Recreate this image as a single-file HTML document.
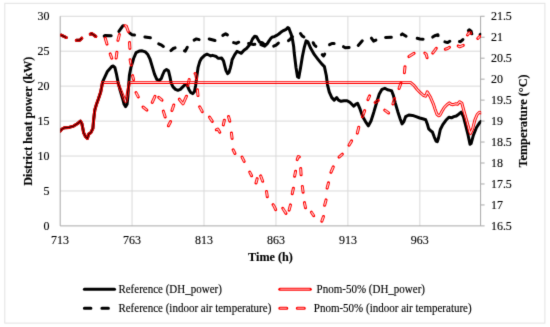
<!DOCTYPE html>
<html><head><meta charset="utf-8"><style>
html,body{margin:0;padding:0;background:#fff;width:550px;height:327px;overflow:hidden}
svg{display:block}
</style></head><body>
<svg width="550" height="327" viewBox="0 0 550 327">
<defs><filter id="soft" x="0" y="0" width="550" height="327" filterUnits="userSpaceOnUse" color-interpolation-filters="sRGB"><feConvolveMatrix order="3" kernelMatrix="0.01134 0.08382 0.01134 0.08382 0.61935 0.08382 0.01134 0.08382 0.01134" divisor="1" edgeMode="duplicate" preserveAlpha="true"/></filter></defs>
<g filter="url(#soft)">
<rect x="0" y="0" width="550" height="327" fill="#fff"/>
<rect x="4.8" y="3.3" width="540.1" height="319.8" fill="none" stroke="#e2e2e2" stroke-width="1"/>
<line x1="60.2" y1="16.25" x2="480.6" y2="16.25" stroke="#d9d9d9" stroke-width="1"/>
<line x1="60.2" y1="51.19" x2="480.6" y2="51.19" stroke="#d9d9d9" stroke-width="1"/>
<line x1="60.2" y1="86.13" x2="480.6" y2="86.13" stroke="#d9d9d9" stroke-width="1"/>
<line x1="60.2" y1="121.08" x2="480.6" y2="121.08" stroke="#d9d9d9" stroke-width="1"/>
<line x1="60.2" y1="156.02" x2="480.6" y2="156.02" stroke="#d9d9d9" stroke-width="1"/>
<line x1="60.2" y1="190.96" x2="480.6" y2="190.96" stroke="#d9d9d9" stroke-width="1"/>
<line x1="132.05" y1="16.25" x2="132.05" y2="225.9" stroke="#d9d9d9" stroke-width="1"/>
<line x1="204.00" y1="16.25" x2="204.00" y2="225.9" stroke="#d9d9d9" stroke-width="1"/>
<line x1="275.95" y1="16.25" x2="275.95" y2="225.9" stroke="#d9d9d9" stroke-width="1"/>
<line x1="347.90" y1="16.25" x2="347.90" y2="225.9" stroke="#d9d9d9" stroke-width="1"/>
<line x1="419.85" y1="16.25" x2="419.85" y2="225.9" stroke="#d9d9d9" stroke-width="1"/>
<line x1="60.2" y1="16.25" x2="60.2" y2="225.9" stroke="#a8a8a8" stroke-width="1"/>
<line x1="60.2" y1="225.9" x2="480.6" y2="225.9" stroke="#a8a8a8" stroke-width="1"/>
<line x1="480.6" y1="16.25" x2="480.6" y2="225.9" stroke="#a8a8a8" stroke-width="1"/>
<line x1="480.6" y1="16.25" x2="484.6" y2="16.25" stroke="#a8a8a8" stroke-width="1"/>
<line x1="480.6" y1="37.22" x2="484.6" y2="37.22" stroke="#a8a8a8" stroke-width="1"/>
<line x1="480.6" y1="58.18" x2="484.6" y2="58.18" stroke="#a8a8a8" stroke-width="1"/>
<line x1="480.6" y1="79.15" x2="484.6" y2="79.15" stroke="#a8a8a8" stroke-width="1"/>
<line x1="480.6" y1="100.11" x2="484.6" y2="100.11" stroke="#a8a8a8" stroke-width="1"/>
<line x1="480.6" y1="121.08" x2="484.6" y2="121.08" stroke="#a8a8a8" stroke-width="1"/>
<line x1="480.6" y1="142.04" x2="484.6" y2="142.04" stroke="#a8a8a8" stroke-width="1"/>
<line x1="480.6" y1="163.00" x2="484.6" y2="163.00" stroke="#a8a8a8" stroke-width="1"/>
<line x1="480.6" y1="183.97" x2="484.6" y2="183.97" stroke="#a8a8a8" stroke-width="1"/>
<line x1="480.6" y1="204.94" x2="484.6" y2="204.94" stroke="#a8a8a8" stroke-width="1"/>
<line x1="480.6" y1="225.90" x2="484.6" y2="225.90" stroke="#a8a8a8" stroke-width="1"/>
<text transform="translate(49.60,20.25) scale(1,1.07)" text-anchor="end" font-size="12" font-weight="normal" font-family="'Liberation Serif', 'Times New Roman', serif" stroke="#000" stroke-width="0.12" fill="#000">30</text>
<text transform="translate(49.60,55.19) scale(1,1.07)" text-anchor="end" font-size="12" font-weight="normal" font-family="'Liberation Serif', 'Times New Roman', serif" stroke="#000" stroke-width="0.12" fill="#000">25</text>
<text transform="translate(49.60,90.13) scale(1,1.07)" text-anchor="end" font-size="12" font-weight="normal" font-family="'Liberation Serif', 'Times New Roman', serif" stroke="#000" stroke-width="0.12" fill="#000">20</text>
<text transform="translate(49.60,125.08) scale(1,1.07)" text-anchor="end" font-size="12" font-weight="normal" font-family="'Liberation Serif', 'Times New Roman', serif" stroke="#000" stroke-width="0.12" fill="#000">15</text>
<text transform="translate(49.60,160.02) scale(1,1.07)" text-anchor="end" font-size="12" font-weight="normal" font-family="'Liberation Serif', 'Times New Roman', serif" stroke="#000" stroke-width="0.12" fill="#000">10</text>
<text transform="translate(49.60,194.96) scale(1,1.07)" text-anchor="end" font-size="12" font-weight="normal" font-family="'Liberation Serif', 'Times New Roman', serif" stroke="#000" stroke-width="0.12" fill="#000">5</text>
<text transform="translate(49.60,229.90) scale(1,1.07)" text-anchor="end" font-size="12" font-weight="normal" font-family="'Liberation Serif', 'Times New Roman', serif" stroke="#000" stroke-width="0.12" fill="#000">0</text>
<text transform="translate(490.90,20.05) scale(1,1.07)" text-anchor="start" font-size="12" font-weight="normal" font-family="'Liberation Serif', 'Times New Roman', serif" stroke="#000" stroke-width="0.12" fill="#000">21.5</text>
<text transform="translate(490.90,41.02) scale(1,1.07)" text-anchor="start" font-size="12" font-weight="normal" font-family="'Liberation Serif', 'Times New Roman', serif" stroke="#000" stroke-width="0.12" fill="#000">21</text>
<text transform="translate(490.90,61.98) scale(1,1.07)" text-anchor="start" font-size="12" font-weight="normal" font-family="'Liberation Serif', 'Times New Roman', serif" stroke="#000" stroke-width="0.12" fill="#000">20.5</text>
<text transform="translate(490.90,82.95) scale(1,1.07)" text-anchor="start" font-size="12" font-weight="normal" font-family="'Liberation Serif', 'Times New Roman', serif" stroke="#000" stroke-width="0.12" fill="#000">20</text>
<text transform="translate(490.90,103.91) scale(1,1.07)" text-anchor="start" font-size="12" font-weight="normal" font-family="'Liberation Serif', 'Times New Roman', serif" stroke="#000" stroke-width="0.12" fill="#000">19.5</text>
<text transform="translate(490.90,124.88) scale(1,1.07)" text-anchor="start" font-size="12" font-weight="normal" font-family="'Liberation Serif', 'Times New Roman', serif" stroke="#000" stroke-width="0.12" fill="#000">19</text>
<text transform="translate(490.90,145.84) scale(1,1.07)" text-anchor="start" font-size="12" font-weight="normal" font-family="'Liberation Serif', 'Times New Roman', serif" stroke="#000" stroke-width="0.12" fill="#000">18.5</text>
<text transform="translate(490.90,166.81) scale(1,1.07)" text-anchor="start" font-size="12" font-weight="normal" font-family="'Liberation Serif', 'Times New Roman', serif" stroke="#000" stroke-width="0.12" fill="#000">18</text>
<text transform="translate(490.90,187.77) scale(1,1.07)" text-anchor="start" font-size="12" font-weight="normal" font-family="'Liberation Serif', 'Times New Roman', serif" stroke="#000" stroke-width="0.12" fill="#000">17.5</text>
<text transform="translate(490.90,208.74) scale(1,1.07)" text-anchor="start" font-size="12" font-weight="normal" font-family="'Liberation Serif', 'Times New Roman', serif" stroke="#000" stroke-width="0.12" fill="#000">17</text>
<text transform="translate(490.90,229.70) scale(1,1.07)" text-anchor="start" font-size="12" font-weight="normal" font-family="'Liberation Serif', 'Times New Roman', serif" stroke="#000" stroke-width="0.12" fill="#000">16.5</text>
<text transform="translate(60.10,244.30) scale(1,1.07)" text-anchor="middle" font-size="12" font-weight="normal" font-family="'Liberation Serif', 'Times New Roman', serif" stroke="#000" stroke-width="0.12" fill="#000">713</text>
<text transform="translate(132.05,244.30) scale(1,1.07)" text-anchor="middle" font-size="12" font-weight="normal" font-family="'Liberation Serif', 'Times New Roman', serif" stroke="#000" stroke-width="0.12" fill="#000">763</text>
<text transform="translate(204.00,244.30) scale(1,1.07)" text-anchor="middle" font-size="12" font-weight="normal" font-family="'Liberation Serif', 'Times New Roman', serif" stroke="#000" stroke-width="0.12" fill="#000">813</text>
<text transform="translate(275.95,244.30) scale(1,1.07)" text-anchor="middle" font-size="12" font-weight="normal" font-family="'Liberation Serif', 'Times New Roman', serif" stroke="#000" stroke-width="0.12" fill="#000">863</text>
<text transform="translate(347.90,244.30) scale(1,1.07)" text-anchor="middle" font-size="12" font-weight="normal" font-family="'Liberation Serif', 'Times New Roman', serif" stroke="#000" stroke-width="0.12" fill="#000">913</text>
<text transform="translate(419.85,244.30) scale(1,1.07)" text-anchor="middle" font-size="12" font-weight="normal" font-family="'Liberation Serif', 'Times New Roman', serif" stroke="#000" stroke-width="0.12" fill="#000">963</text>
<text transform="translate(270.50,261.10) scale(1,1.03)" text-anchor="middle" font-size="12.2" font-weight="bold" font-family="'Liberation Serif', 'Times New Roman', serif" stroke="#000" stroke-width="0.12" fill="#000">Time (h)</text>
<text transform="translate(31.50,121.20) rotate(-90) scale(1,1.03)" text-anchor="middle" font-size="12.1" font-weight="bold" font-family="'Liberation Serif', 'Times New Roman', serif" stroke="#000" stroke-width="0.12" fill="#000">District heat power (kW)</text>
<text transform="translate(527.00,121.00) rotate(-90) scale(1,1.03)" text-anchor="middle" font-size="12.3" font-weight="bold" font-family="'Liberation Serif', 'Times New Roman', serif" stroke="#000" stroke-width="0.12" fill="#000">Temperature (°C)</text>
<defs><clipPath id="pc"><rect x="60.2" y="10" width="421" height="220"/></clipPath><mask id="mrs" maskUnits="userSpaceOnUse" x="0" y="0" width="550" height="327"><rect width="550" height="327" fill="#fff"/><polyline points="60.2,131.1 61.7,129.3 64.4,127.8 69.0,127.4 73.6,126.1 77.3,123.8 80.4,121.0 81.9,123.8 83.7,132.9 85.5,136.6 87.4,138.4 88.8,133.9 91.0,132.4 92.9,128.3 93.7,119.2 94.8,110.0 96.3,104.8 98.4,99.0 100.7,92.0 102.6,82.4 117.6,82.4 121.5,92.0 125.2,101.3 126.0,101.3 127.9,90.6 129.4,82.4 410.4,82.4 414.2,85.7 417.2,89.5 420.3,92.6 423.5,95.5 425.6,96.2 427.2,91.9 428.7,94.3 430.5,97.3 433.3,103.8 435.1,109.3 436.9,114.3 438.8,115.8 440.1,114.9 442.0,111.3 444.3,107.5 447.0,104.7 449.3,102.9 451.1,104.3 453.0,104.7 455.5,103.8 457.5,104.2 459.6,101.7 461.9,103.3 464.2,112.0 467.3,122.9 469.5,131.0 470.4,133.6 472.6,129.0 474.9,119.9 477.2,114.5 479.5,112.2 481.0,113.0" fill="none" stroke="#333" stroke-width="1.2" stroke-linejoin="round"/></mask><mask id="mrd" maskUnits="userSpaceOnUse" x="0" y="0" width="550" height="327"><rect width="550" height="327" fill="#fff"/><polyline points="61.2,35.1 66.2,37.5" fill="none" stroke="#333" stroke-width="1.2" stroke-linejoin="round" stroke-linecap="butt"/><polyline points="76.3,40.2 79.8,40.2 81.8,38.2" fill="none" stroke="#333" stroke-width="1.2" stroke-linejoin="round" stroke-linecap="butt"/><polyline points="90.3,34.1 91.6,33.6 93.9,35.0 95.8,36.5" fill="none" stroke="#333" stroke-width="1.2" stroke-linejoin="round" stroke-linecap="butt"/><polyline points="105.2,38.1 107.0,44.1" fill="none" stroke="#333" stroke-width="1.2" stroke-linejoin="round" stroke-linecap="butt"/><polyline points="110.2,53.9 111.8,58.2" fill="none" stroke="#333" stroke-width="1.2" stroke-linejoin="round" stroke-linecap="butt"/><polyline points="116.1,58.1 116.9,52.2" fill="none" stroke="#333" stroke-width="1.2" stroke-linejoin="round" stroke-linecap="butt"/><polyline points="117.9,40.4 119.4,34.5" fill="none" stroke="#333" stroke-width="1.2" stroke-linejoin="round" stroke-linecap="butt"/><polyline points="124.9,25.7 126.3,26.1 128.1,31.0 128.5,31.7" fill="none" stroke="#333" stroke-width="1.2" stroke-linejoin="round" stroke-linecap="butt"/><polyline points="129.5,42.4 129.9,48.4" fill="none" stroke="#333" stroke-width="1.2" stroke-linejoin="round" stroke-linecap="butt"/><polyline points="130.1,59.7 131.2,65.0" fill="none" stroke="#333" stroke-width="1.2" stroke-linejoin="round" stroke-linecap="butt"/><polyline points="132.5,75.6 133.6,79.7" fill="none" stroke="#333" stroke-width="1.2" stroke-linejoin="round" stroke-linecap="butt"/><polyline points="136.0,92.6 138.3,96.9" fill="none" stroke="#333" stroke-width="1.2" stroke-linejoin="round" stroke-linecap="butt"/><polyline points="143.0,107.0 146.9,110.1" fill="none" stroke="#333" stroke-width="1.2" stroke-linejoin="round" stroke-linecap="butt"/><polyline points="152.2,102.4 155.0,96.3" fill="none" stroke="#333" stroke-width="1.2" stroke-linejoin="round" stroke-linecap="butt"/><polyline points="158.7,97.3 162.0,100.2" fill="none" stroke="#333" stroke-width="1.2" stroke-linejoin="round" stroke-linecap="butt"/><polyline points="163.3,111.1 165.2,117.0" fill="none" stroke="#333" stroke-width="1.2" stroke-linejoin="round" stroke-linecap="butt"/><polyline points="168.4,125.8 170.6,121.5" fill="none" stroke="#333" stroke-width="1.2" stroke-linejoin="round" stroke-linecap="butt"/><polyline points="171.9,110.5 173.8,105.0" fill="none" stroke="#333" stroke-width="1.2" stroke-linejoin="round" stroke-linecap="butt"/><polyline points="179.3,99.2 183.0,103.9 186.5,96.2" fill="none" stroke="#333" stroke-width="1.2" stroke-linejoin="round" stroke-linecap="butt"/><polyline points="187.8,85.3 189.2,79.5" fill="none" stroke="#333" stroke-width="1.2" stroke-linejoin="round" stroke-linecap="butt"/><polyline points="195.0,73.5 195.8,74.8 196.6,78.9" fill="none" stroke="#333" stroke-width="1.2" stroke-linejoin="round" stroke-linecap="butt"/><polyline points="197.4,89.7 198.0,95.6" fill="none" stroke="#333" stroke-width="1.2" stroke-linejoin="round" stroke-linecap="butt"/><polyline points="199.6,106.7 202.3,111.6" fill="none" stroke="#333" stroke-width="1.2" stroke-linejoin="round" stroke-linecap="butt"/><polyline points="209.5,117.1 212.3,121.4" fill="none" stroke="#333" stroke-width="1.2" stroke-linejoin="round" stroke-linecap="butt"/><polyline points="216.3,129.8 217.8,129.0 219.8,132.3" fill="none" stroke="#333" stroke-width="1.2" stroke-linejoin="round" stroke-linecap="butt"/><polyline points="223.3,124.9 224.4,120.2" fill="none" stroke="#333" stroke-width="1.2" stroke-linejoin="round" stroke-linecap="butt"/><polyline points="228.5,116.5 229.8,121.2" fill="none" stroke="#333" stroke-width="1.2" stroke-linejoin="round" stroke-linecap="butt"/><polyline points="231.4,133.0 232.1,138.4" fill="none" stroke="#333" stroke-width="1.2" stroke-linejoin="round" stroke-linecap="butt"/><polyline points="233.1,149.8 235.0,153.5" fill="none" stroke="#333" stroke-width="1.2" stroke-linejoin="round" stroke-linecap="butt"/><polyline points="242.0,157.1 244.2,161.4" fill="none" stroke="#333" stroke-width="1.2" stroke-linejoin="round" stroke-linecap="butt"/><polyline points="249.7,172.1 251.6,175.8" fill="none" stroke="#333" stroke-width="1.2" stroke-linejoin="round" stroke-linecap="butt"/><polyline points="256.0,183.0 257.2,178.6" fill="none" stroke="#333" stroke-width="1.2" stroke-linejoin="round" stroke-linecap="butt"/><polyline points="260.6,175.8 262.7,181.3" fill="none" stroke="#333" stroke-width="1.2" stroke-linejoin="round" stroke-linecap="butt"/><polyline points="266.5,191.4 267.3,196.7" fill="none" stroke="#333" stroke-width="1.2" stroke-linejoin="round" stroke-linecap="butt"/><polyline points="273.0,204.7 274.2,206.3 275.7,209.7" fill="none" stroke="#333" stroke-width="1.2" stroke-linejoin="round" stroke-linecap="butt"/><polyline points="282.7,208.3 284.6,211.2 286.0,213.4" fill="none" stroke="#333" stroke-width="1.2" stroke-linejoin="round" stroke-linecap="butt"/><polyline points="289.1,210.2 290.5,204.9" fill="none" stroke="#333" stroke-width="1.2" stroke-linejoin="round" stroke-linecap="butt"/><polyline points="292.2,193.7 293.4,188.3" fill="none" stroke="#333" stroke-width="1.2" stroke-linejoin="round" stroke-linecap="butt"/><polyline points="294.6,176.2 295.6,171.3" fill="none" stroke="#333" stroke-width="1.2" stroke-linejoin="round" stroke-linecap="butt"/><polyline points="297.2,159.6 298.3,156.6 299.4,156.9" fill="none" stroke="#333" stroke-width="1.2" stroke-linejoin="round" stroke-linecap="butt"/><polyline points="300.7,168.5 301.1,174.8" fill="none" stroke="#333" stroke-width="1.2" stroke-linejoin="round" stroke-linecap="butt"/><polyline points="302.3,186.4 303.1,192.2" fill="none" stroke="#333" stroke-width="1.2" stroke-linejoin="round" stroke-linecap="butt"/><polyline points="304.4,202.6 305.5,207.7" fill="none" stroke="#333" stroke-width="1.2" stroke-linejoin="round" stroke-linecap="butt"/><polyline points="311.4,212.2 313.7,215.7" fill="none" stroke="#333" stroke-width="1.2" stroke-linejoin="round" stroke-linecap="butt"/><polyline points="321.8,221.3 323.5,216.5" fill="none" stroke="#333" stroke-width="1.2" stroke-linejoin="round" stroke-linecap="butt"/><polyline points="324.6,205.3 326.1,199.9" fill="none" stroke="#333" stroke-width="1.2" stroke-linejoin="round" stroke-linecap="butt"/><polyline points="327.1,188.1 328.5,182.8" fill="none" stroke="#333" stroke-width="1.2" stroke-linejoin="round" stroke-linecap="butt"/><polyline points="330.9,172.3 333.3,166.8" fill="none" stroke="#333" stroke-width="1.2" stroke-linejoin="round" stroke-linecap="butt"/><polyline points="339.0,157.1 342.4,154.2" fill="none" stroke="#333" stroke-width="1.2" stroke-linejoin="round" stroke-linecap="butt"/><polyline points="349.0,145.2 351.6,140.9" fill="none" stroke="#333" stroke-width="1.2" stroke-linejoin="round" stroke-linecap="butt"/><polyline points="357.3,133.1 358.8,127.2" fill="none" stroke="#333" stroke-width="1.2" stroke-linejoin="round" stroke-linecap="butt"/><polyline points="362.4,116.7 364.7,110.6" fill="none" stroke="#333" stroke-width="1.2" stroke-linejoin="round" stroke-linecap="butt"/><polyline points="367.9,99.6 369.6,95.9" fill="none" stroke="#333" stroke-width="1.2" stroke-linejoin="round" stroke-linecap="butt"/><polyline points="375.1,102.5 378.3,100.4" fill="none" stroke="#333" stroke-width="1.2" stroke-linejoin="round" stroke-linecap="butt"/><polyline points="384.7,110.1 388.6,113.0" fill="none" stroke="#333" stroke-width="1.2" stroke-linejoin="round" stroke-linecap="butt"/><polyline points="392.9,104.0 394.6,98.6" fill="none" stroke="#333" stroke-width="1.2" stroke-linejoin="round" stroke-linecap="butt"/><polyline points="399.0,88.5 401.0,82.9" fill="none" stroke="#333" stroke-width="1.2" stroke-linejoin="round" stroke-linecap="butt"/><polyline points="404.4,72.7 405.0,66.7" fill="none" stroke="#333" stroke-width="1.2" stroke-linejoin="round" stroke-linecap="butt"/><polyline points="408.9,56.6 414.1,53.3" fill="none" stroke="#333" stroke-width="1.2" stroke-linejoin="round" stroke-linecap="butt"/><polyline points="424.8,53.0 426.2,54.4 427.1,57.7" fill="none" stroke="#333" stroke-width="1.2" stroke-linejoin="round" stroke-linecap="butt"/><polyline points="432.7,53.1 436.3,48.3" fill="none" stroke="#333" stroke-width="1.2" stroke-linejoin="round" stroke-linecap="butt"/><polyline points="445.3,49.2 447.6,48.5 449.5,47.3" fill="none" stroke="#333" stroke-width="1.2" stroke-linejoin="round" stroke-linecap="butt"/><polyline points="458.2,45.9 459.6,46.8 463.3,45.4" fill="none" stroke="#333" stroke-width="1.2" stroke-linejoin="round" stroke-linecap="butt"/><polyline points="467.5,35.0 468.8,33.0 470.1,32.6 470.7,33.2" fill="none" stroke="#333" stroke-width="1.2" stroke-linejoin="round" stroke-linecap="butt"/><polyline points="477.7,38.5 479.3,36.8 479.8,36.4" fill="none" stroke="#333" stroke-width="1.2" stroke-linejoin="round" stroke-linecap="butt"/></mask></defs>
<g clip-path="url(#pc)">
<g fill="none" stroke="#000" stroke-width="3" stroke-linejoin="round" stroke-linecap="round"><polyline points="61.2,35.1 66.2,37.5"/><polyline points="76.3,40.2 79.8,40.2 81.8,38.2"/><polyline points="90.3,34.1 91.6,33.6 93.9,35.0 95.8,36.5"/><polyline points="104.2,36.1 105.0,35.6 111.2,35.7"/><polyline points="118.9,31.4 122.6,26.1 123.4,25.7"/><polyline points="129.5,32.8 131.8,34.7 134.5,35.1"/><polyline points="144.9,36.9 150.4,37.7"/><polyline points="158.7,43.8 161.0,44.8 163.4,46.4"/><polyline points="170.9,50.6 173.3,48.5 175.1,47.8"/><polyline points="184.5,50.9 185.2,51.2 187.3,47.3"/><polyline points="194.1,40.1 196.4,38.9 199.1,39.6"/><polyline points="209.2,39.0 215.0,40.5"/><polyline points="222.8,35.4 225.6,33.8 227.4,34.9"/><polyline points="233.6,42.6 236.3,43.4 238.7,42.2"/><polyline points="248.6,43.5 250.7,43.8 253.4,44.5 254.8,44.3"/><polyline points="260.9,44.6 264.6,46.1"/><polyline points="273.7,46.1 276.1,45.1 278.4,43.1"/><polyline points="288.5,40.7 290.3,39.1 292.4,36.7"/><polyline points="300.5,33.5 302.1,35.9 303.9,37.0"/><polyline points="313.2,42.7 314.4,45.0 315.9,46.4"/><polyline points="322.2,54.7 323.5,56.0 324.7,54.1"/><polyline points="329.6,44.7 331.9,43.5 334.1,43.5"/><polyline points="343.5,46.7 345.3,47.8 349.1,47.4"/><polyline points="358.2,45.4 362.3,40.8"/><polyline points="371.4,38.2 373.6,41.1 375.9,40.1"/><polyline points="385.6,37.4 391.3,37.2"/><polyline points="401.4,34.7 402.4,33.9 406.1,36.2"/><polyline points="417.2,38.3 419.9,39.0 423.1,39.2"/><polyline points="432.7,37.1 434.7,35.8 437.9,34.8 438.1,35.6"/><polyline points="444.9,41.9 447.5,42.6 449.8,41.3"/><polyline points="459.5,41.5 460.5,41.7 462.9,39.6"/><polyline points="468.4,30.6 469.2,29.8 471.1,31.2 471.8,33.8"/><polyline points="480.2,34.5 480.6,34.3"/></g>
<polyline points="60.2,131.1 61.7,129.3 64.4,127.8 69.0,127.4 73.6,126.1 77.3,123.8 80.4,121.0 81.9,123.8 83.7,132.9 85.5,136.6 87.4,138.4 88.8,133.9 91.0,132.4 92.9,128.3 93.7,119.2 94.8,110.0 96.3,104.8 98.4,99.0 100.7,92.0 102.6,81.8 107.2,71.8 111.8,66.5 113.3,66.0 114.9,67.6 116.4,73.8 117.9,81.4 120.2,90.6 122.5,98.2 124.1,104.3 125.6,106.6 127.1,104.3 127.9,96.7 128.6,86.0 129.4,75.3 130.9,67.6 132.5,62.6 133.6,58.5 136.1,52.6 139.2,51.1 142.2,50.8 145.3,51.9 147.6,54.2 149.9,58.8 152.2,66.4 154.5,74.1 156.8,79.4 159.1,80.5 161.3,78.6 162.6,75.0 164.4,71.0 166.5,69.6 168.5,70.8 170.0,77.1 171.2,83.2 173.0,86.9 175.5,89.4 177.9,90.3 180.3,89.4 182.8,86.9 185.2,84.5 187.1,85.1 188.9,89.4 190.7,92.4 192.6,93.6 194.4,91.8 195.6,85.7 196.9,75.9 198.1,67.3 199.9,61.2 201.5,58.3 204.6,55.3 207.0,54.2 208.8,55.0 210.7,55.9 212.5,55.3 214.3,55.9 216.2,56.5 218.0,58.3 219.9,58.3 221.7,58.1 223.5,60.8 224.7,65.7 226.0,70.6 227.6,73.6 229.0,72.4 230.3,68.1 231.5,63.2 232.1,59.8 234.6,54.9 237.0,51.4 239.5,52.5 241.3,53.3 244.0,50.2 246.5,48.5 248.6,46.0 250.5,43.5 252.5,39.0 254.7,36.3 256.5,36.8 258.0,39.5 259.5,42.0 261.0,42.6 262.5,42.8 264.2,44.3 265.5,45.3 267.3,43.6 269.2,40.6 271.0,38.2 272.5,36.9 274.1,36.8 276.6,35.4 278.8,34.0 280.8,32.3 283.5,30.6 286.2,29.3 287.8,27.6 288.9,28.3 290.1,31.5 291.3,34.6 292.5,39.5 293.7,46.8 294.2,52.8 296.0,67.5 297.5,76.7 298.8,77.6 300.6,67.5 302.4,56.5 304.3,47.3 306.1,40.9 307.9,41.8 310.7,48.3 314.4,54.7 318.0,59.3 321.7,63.9 324.4,66.6 326.3,75.5 327.5,84.8 329.3,92.1 331.8,97.6 334.2,100.1 336.7,97.6 338.5,100.1 341.0,101.3 344.0,100.7 347.1,100.7 350.1,102.5 353.8,106.2 355.9,104.2 357.6,103.4 360.1,109.2 362.6,116.5 365.5,121.6 368.4,125.8 371.0,121.0 373.8,112.2 376.5,103.0 379.3,93.9 382.0,89.3 384.8,88.3 387.5,89.8 390.3,90.4 391.7,91.0 393.5,95.8 395.3,103.1 397.8,111.7 400.2,119.0 402.1,123.9 403.9,121.5 405.7,116.6 408.8,115.0 412.5,115.4 416.1,116.6 419.8,118.0 423.5,119.0 425.7,119.7 427.5,124.6 428.7,128.9 430.6,130.7 432.4,131.9 434.2,136.8 436.1,141.1 437.3,141.7 438.5,138.0 440.3,129.5 442.8,124.6 445.9,120.3 448.9,117.2 451.4,117.8 453.8,116.6 456.3,116.0 458.7,114.2 461.2,112.2 463.5,116.8 465.8,126.0 468.1,135.2 470.0,144.3 471.1,143.6 473.4,135.2 476.5,127.5 479.5,122.9 481.0,121.4" fill="none" stroke="#000" stroke-width="3" stroke-linejoin="round" stroke-linecap="round"/>
<g fill="none" stroke="#ff0000" stroke-width="3.0" stroke-linejoin="round" stroke-linecap="round" mask="url(#mrd)"><polyline points="61.2,35.1 66.2,37.5"/><polyline points="76.3,40.2 79.8,40.2 81.8,38.2"/><polyline points="90.3,34.1 91.6,33.6 93.9,35.0 95.8,36.5"/><polyline points="105.2,38.1 107.0,44.1"/><polyline points="110.2,53.9 111.8,58.2"/><polyline points="116.1,58.1 116.9,52.2"/><polyline points="117.9,40.4 119.4,34.5"/><polyline points="124.9,25.7 126.3,26.1 128.1,31.0 128.5,31.7"/><polyline points="129.5,42.4 129.9,48.4"/><polyline points="130.1,59.7 131.2,65.0"/><polyline points="132.5,75.6 133.6,79.7"/><polyline points="136.0,92.6 138.3,96.9"/><polyline points="143.0,107.0 146.9,110.1"/><polyline points="152.2,102.4 155.0,96.3"/><polyline points="158.7,97.3 162.0,100.2"/><polyline points="163.3,111.1 165.2,117.0"/><polyline points="168.4,125.8 170.6,121.5"/><polyline points="171.9,110.5 173.8,105.0"/><polyline points="179.3,99.2 183.0,103.9 186.5,96.2"/><polyline points="187.8,85.3 189.2,79.5"/><polyline points="195.0,73.5 195.8,74.8 196.6,78.9"/><polyline points="197.4,89.7 198.0,95.6"/><polyline points="199.6,106.7 202.3,111.6"/><polyline points="209.5,117.1 212.3,121.4"/><polyline points="216.3,129.8 217.8,129.0 219.8,132.3"/><polyline points="223.3,124.9 224.4,120.2"/><polyline points="228.5,116.5 229.8,121.2"/><polyline points="231.4,133.0 232.1,138.4"/><polyline points="233.1,149.8 235.0,153.5"/><polyline points="242.0,157.1 244.2,161.4"/><polyline points="249.7,172.1 251.6,175.8"/><polyline points="256.0,183.0 257.2,178.6"/><polyline points="260.6,175.8 262.7,181.3"/><polyline points="266.5,191.4 267.3,196.7"/><polyline points="273.0,204.7 274.2,206.3 275.7,209.7"/><polyline points="282.7,208.3 284.6,211.2 286.0,213.4"/><polyline points="289.1,210.2 290.5,204.9"/><polyline points="292.2,193.7 293.4,188.3"/><polyline points="294.6,176.2 295.6,171.3"/><polyline points="297.2,159.6 298.3,156.6 299.4,156.9"/><polyline points="300.7,168.5 301.1,174.8"/><polyline points="302.3,186.4 303.1,192.2"/><polyline points="304.4,202.6 305.5,207.7"/><polyline points="311.4,212.2 313.7,215.7"/><polyline points="321.8,221.3 323.5,216.5"/><polyline points="324.6,205.3 326.1,199.9"/><polyline points="327.1,188.1 328.5,182.8"/><polyline points="330.9,172.3 333.3,166.8"/><polyline points="339.0,157.1 342.4,154.2"/><polyline points="349.0,145.2 351.6,140.9"/><polyline points="357.3,133.1 358.8,127.2"/><polyline points="362.4,116.7 364.7,110.6"/><polyline points="367.9,99.6 369.6,95.9"/><polyline points="375.1,102.5 378.3,100.4"/><polyline points="384.7,110.1 388.6,113.0"/><polyline points="392.9,104.0 394.6,98.6"/><polyline points="399.0,88.5 401.0,82.9"/><polyline points="404.4,72.7 405.0,66.7"/><polyline points="408.9,56.6 414.1,53.3"/><polyline points="424.8,53.0 426.2,54.4 427.1,57.7"/><polyline points="432.7,53.1 436.3,48.3"/><polyline points="445.3,49.2 447.6,48.5 449.5,47.3"/><polyline points="458.2,45.9 459.6,46.8 463.3,45.4"/><polyline points="467.5,35.0 468.8,33.0 470.1,32.6 470.7,33.2"/><polyline points="477.7,38.5 479.3,36.8 479.8,36.4"/></g>
<polyline points="60.2,131.1 61.7,129.3 64.4,127.8 69.0,127.4 73.6,126.1 77.3,123.8 80.4,121.0 81.9,123.8 83.7,132.9 85.5,136.6 87.4,138.4 88.8,133.9 91.0,132.4 92.9,128.3 93.7,119.2 94.8,110.0 96.3,104.8 98.4,99.0 100.7,92.0 102.6,82.4 117.6,82.4 121.5,92.0 125.2,101.3 126.0,101.3 127.9,90.6 129.4,82.4 410.4,82.4 414.2,85.7 417.2,89.5 420.3,92.6 423.5,95.5 425.6,96.2 427.2,91.9 428.7,94.3 430.5,97.3 433.3,103.8 435.1,109.3 436.9,114.3 438.8,115.8 440.1,114.9 442.0,111.3 444.3,107.5 447.0,104.7 449.3,102.9 451.1,104.3 453.0,104.7 455.5,103.8 457.5,104.2 459.6,101.7 461.9,103.3 464.2,112.0 467.3,122.9 469.5,131.0 470.4,133.6 472.6,129.0 474.9,119.9 477.2,114.5 479.5,112.2 481.0,113.0" fill="none" stroke="#ff0000" stroke-width="3.0" stroke-linejoin="round" stroke-linecap="round" mask="url(#mrs)"/>
</g>
<line x1="84.4" y1="289.2" x2="114.5" y2="289.2" stroke="#000" stroke-width="3" stroke-linecap="round"/>
<line x1="84.4" y1="308.2" x2="114.5" y2="308.2" stroke="#000" stroke-width="3" stroke-linecap="round" stroke-dasharray="6.5 11"/>
<line x1="279.8" y1="289.2" x2="310.3" y2="289.2" stroke="#ff0000" stroke-width="3.0" stroke-linecap="round"/>
<line x1="280.3" y1="289.2" x2="309.8" y2="289.2" stroke="#ffb0b0" stroke-width="1"/>
<line x1="279.8" y1="308.2" x2="310" y2="308.2" stroke="#ff0000" stroke-width="3.0" stroke-linecap="round" stroke-dasharray="7 10.5"/>
<line x1="279.8" y1="308.2" x2="310" y2="308.2" stroke="#ffb0b0" stroke-width="1" stroke-dasharray="7 10.5"/>
<text transform="translate(118.40,292.70) scale(1,1.09)" text-anchor="start" font-size="11" font-weight="normal" font-family="'Liberation Serif', 'Times New Roman', serif" stroke="#000" stroke-width="0.12" fill="#000">Reference (DH_power)</text>
<text transform="translate(118.40,311.70) scale(1,1.09)" text-anchor="start" font-size="11" font-weight="normal" font-family="'Liberation Serif', 'Times New Roman', serif" stroke="#000" stroke-width="0.12" fill="#000">Reference (indoor air temperature)</text>
<text transform="translate(316.60,292.70) scale(1,1.09)" text-anchor="start" font-size="11" font-weight="normal" font-family="'Liberation Serif', 'Times New Roman', serif" stroke="#000" stroke-width="0.12" fill="#000">Pnom-50% (DH_power)</text>
<text transform="translate(313.80,311.70) scale(1,1.09)" text-anchor="start" font-size="11" font-weight="normal" font-family="'Liberation Serif', 'Times New Roman', serif" stroke="#000" stroke-width="0.12" fill="#000">Pnom-50% (indoor air temperature)</text>
</g>
</svg>
</body></html>
